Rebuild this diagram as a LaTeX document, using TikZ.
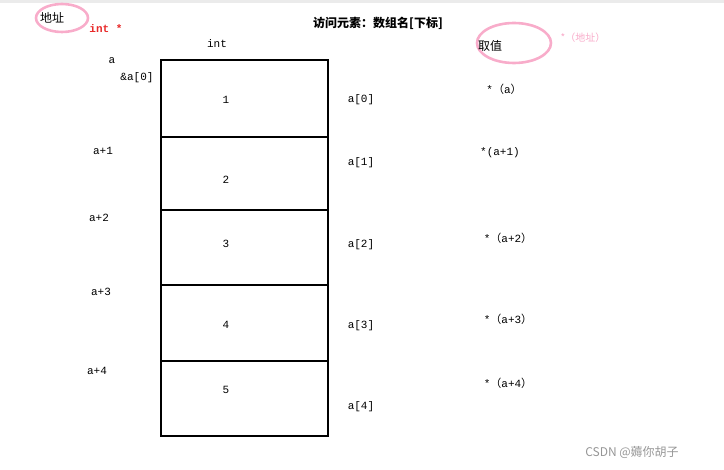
\documentclass[tikz,border=0pt]{standalone}
\usepackage{fontspec}
\setmainfont{Liberation Serif}
\setmonofont{Liberation Mono}
\newfontfamily\cjk{Noto Sans CJK SC}
\usetikzlibrary{positioning}
\usetikzlibrary{shapes.geometric}
\definecolor{ringpink}{RGB}{248,172,202}
\definecolor{codered}{RGB}{232,42,42}
\definecolor{markgrey}{RGB}{150,150,150}
\newcommand{\codesize}{\fontsize{11}{13}\selectfont}
\newcommand{\hansize}{\fontsize{12}{14}\selectfont}
\tikzset{
	%Define style for plain labels
	lbl/.style={
		inner sep=1pt,
		font=\ttfamily\codesize},
	%Define style for Chinese labels
	han/.style={
		inner sep=1pt,
		font=\cjk\hansize},
	%Define style for the memory cells
	cell/.style={
		rectangle,
		draw=black, line width=2.6pt,
		minimum width=167pt,
		outer sep=0pt},
	% Define pink ring style
	ring/.style={
		ellipse,
		draw=ringpink, line width=2.6pt}
}

\begin{document}
\begin{tikzpicture}[x=1pt, y=-1pt]
	\useasboundingbox (0,0) rectangle (724,470);
	\fill[black!8] (0,0) rectangle (724,3);
	
	% headings
	\node[ring,minimum width=52pt,minimum height=28pt] (addr-ring) at (62,18) {};
	\node[han] (addr) at (52,18) {地址};
	\node[lbl,text=codered,font=\ttfamily\codesize\bfseries] (ptr-type) at (106,29) {int *};
	\node[han,font=\cjk\hansize\bfseries] (access) at (378,23) {访问元素：数组名[下标]};
	\node[ring,minimum width=74pt,minimum height=40pt] (val-ring) at (514,43) {};
	\node[han] (val) at (490,46) {取值};
	\node[han,text=ringpink,font=\cjk\fontsize{10}{12}\selectfont] (deref) at (583,38) {*（地址）};
	
	% the array
	\node[lbl] (int) at (217,44) {int};
	\node[cell,minimum height=77pt,anchor=north] (c1) at (244.5,60) {};
	\node[cell,minimum height=73pt,below = 0pt of c1] (c2) {};
	\node[cell,minimum height=75pt,below = 0pt of c2] (c3) {};
	\node[cell,minimum height=76pt,below = 0pt of c3] (c4) {};
	\node[cell,minimum height=75pt,below = 0pt of c4] (c5) {};
	
	\node[lbl] (d1) at (226,100) {1};
	\node[lbl] (d2) at (226,180) {2};
	\node[lbl] (d3) at (226,244) {3};
	\node[lbl] (d4) at (226,325) {4};
	\node[lbl] (d5) at (226,390) {5};
	
	% addresses
	\node[lbl] (a0) at (112,61) {a};
	\node[lbl] (amp0) at (137,78) {\&a[0]};
	\node[lbl] (a1) at (103,151) {a+1};
	\node[lbl] (a2) at (99,218) {a+2};
	\node[lbl] (a3) at (101,292) {a+3};
	\node[lbl] (a4) at (97,371) {a+4};
	
	% subscripts
	\node[lbl] (s0) at (361,100) {a[0]};
	\node[lbl] (s1) at (361,163) {a[1]};
	\node[lbl] (s2) at (361,245) {a[2]};
	\node[lbl] (s3) at (361,326) {a[3]};
	\node[lbl] (s4) at (361,407) {a[4]};
	
	% values
	\node[lbl] (v0) at (504,89) {*{\cjk （}a{\cjk ）}};
	\node[lbl] (v1) at (500,153) {*(a+1)};
	\node[lbl] (v2) at (508,238) {*{\cjk （}a+2{\cjk ）}};
	\node[lbl] (v3) at (508,319) {*{\cjk （}a+3{\cjk ）}};
	\node[lbl] (v4) at (508,383) {*{\cjk （}a+4{\cjk ）}};
	
	\node[han,text=markgrey] (csdn) at (632,452) {CSDN @薅你胡子};
\end{tikzpicture}
\end{document}
